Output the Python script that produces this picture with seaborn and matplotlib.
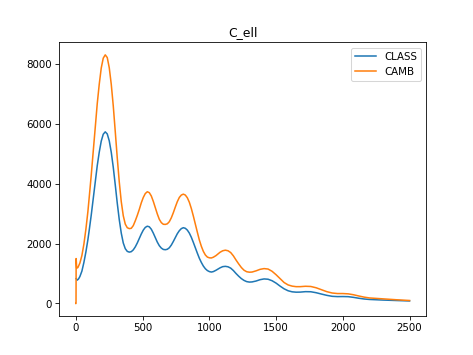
import matplotlib
matplotlib.use("Agg")
import matplotlib.pyplot as plt
import seaborn as sns
import pandas as pd

# multipoles and power
ell_class = [2, 10, 20, 30, 45, 60, 75, 90, 100, 115, 130, 145, 160, 175, 190, 205,
             220, 235, 250, 265, 280, 295, 310, 325, 340, 355, 370, 385, 400, 415,
             430, 445, 460, 475, 490, 505, 520, 535, 550, 565, 580, 595, 610, 625,
             640, 655, 670, 685, 700, 715, 730, 745, 760, 775, 790, 805, 820, 835,
             850, 865, 880, 895, 910, 925, 940, 955, 970, 985, 1000, 1015, 1030,
             1050, 1080, 1100, 1120, 1140, 1160, 1180, 1200, 1220, 1240, 1260,
             1280, 1300, 1320, 1350, 1380, 1410, 1440, 1470, 1500, 1530, 1560,
             1590, 1620, 1650, 1680, 1720, 1760, 1800, 1840, 1880, 1920, 1960,
             2000, 2040, 2080, 2120, 2160, 2200, 2250, 2300, 2400, 2500]
cl_class = [830, 780, 820, 900, 1080, 1370, 1720, 2130, 2450, 2950, 3500, 4050,
            4600, 5050, 5420, 5650, 5730, 5660, 5430, 5050, 4550, 3960, 3350, 2800,
            2350, 2020, 1830, 1740, 1715, 1730, 1790, 1890, 2020, 2170, 2320, 2450,
            2540, 2580, 2560, 2480, 2350, 2200, 2050, 1930, 1850, 1805, 1795, 1810,
            1860, 1950, 2070, 2200, 2330, 2430, 2500, 2530, 2510, 2450, 2350, 2210,
            2040, 1860, 1680, 1510, 1370, 1250, 1160, 1100, 1065, 1050, 1065,
            1110, 1190, 1230, 1240, 1225, 1180, 1100, 1000, 910, 830, 770, 730,
            715, 720, 750, 795, 820, 810, 760, 680, 580, 490, 425, 390, 378, 380,
            395, 392, 360, 315, 272, 240, 230, 232, 228, 205, 175, 150, 135, 125,
            115, 100, 85]

ell_camb = [0, 1, 2, 6, 15, 30, 45, 60, 75, 90, 100, 115, 130, 145, 160, 175, 190,
            205, 220, 235, 250, 265, 280, 295, 310, 325, 340, 355, 370, 385, 400,
            415, 430, 445, 460, 475, 490, 505, 520, 535, 550, 565, 580, 595, 610,
            625, 640, 655, 670, 685, 700, 715, 730, 745, 760, 775, 790, 805, 820,
            835, 850, 865, 880, 895, 910, 925, 940, 955, 970, 985, 1000, 1015,
            1030, 1050, 1080, 1100, 1120, 1140, 1160, 1180, 1200, 1220, 1240,
            1260, 1280, 1300, 1320, 1350, 1380, 1410, 1440, 1470, 1500, 1530,
            1560, 1590, 1620, 1650, 1680, 1720, 1760, 1800, 1840, 1880, 1920,
            1960, 2000, 2040, 2080, 2120, 2160, 2200, 2250, 2300, 2400, 2500]
cl_camb = [0, 0, 1500, 1180, 1200, 1350, 1600, 1980, 2480, 3070, 3550, 4280, 5080,
           5870, 6670, 7320, 7860, 8190, 8300, 8210, 7870, 7320, 6600, 5740, 4860,
           4060, 3400, 2930, 2650, 2530, 2500, 2510, 2600, 2760, 2940, 3140, 3360,
           3540, 3670, 3730, 3700, 3590, 3410, 3200, 2990, 2810, 2700, 2645, 2640,
           2660, 2730, 2860, 3030, 3220, 3400, 3540, 3620, 3650, 3620, 3530, 3380,
           3170, 2920, 2650, 2380, 2120, 1910, 1740, 1620, 1550, 1525, 1520, 1545,
           1600, 1710, 1760, 1780, 1760, 1700, 1590, 1450, 1320, 1200, 1110, 1060,
           1045, 1050, 1090, 1140, 1165, 1150, 1075, 960, 830, 700, 620, 580, 562,
           562, 575, 568, 525, 460, 395, 350, 332, 332, 322, 292, 250, 212, 185,
           170, 155, 125, 100]

df_class = pd.DataFrame({"ell": ell_class, "cl": cl_class})
df_camb = pd.DataFrame({"ell": ell_camb, "cl": cl_camb})

fig, ax = plt.subplots(figsize=(6.4, 4.8), dpi=74)
sns.lineplot(data=df_class, x="ell", y="cl", label="CLASS", color="#1f77b4", ax=ax)
sns.lineplot(data=df_camb, x="ell", y="cl", label="CAMB", color="#ff7f0e", ax=ax)

ax.set_xlabel("")
ax.set_ylabel("")
ax.set_title("C_ell")
ax.legend(loc="upper right")

fig.savefig("out.png", dpi=74)
